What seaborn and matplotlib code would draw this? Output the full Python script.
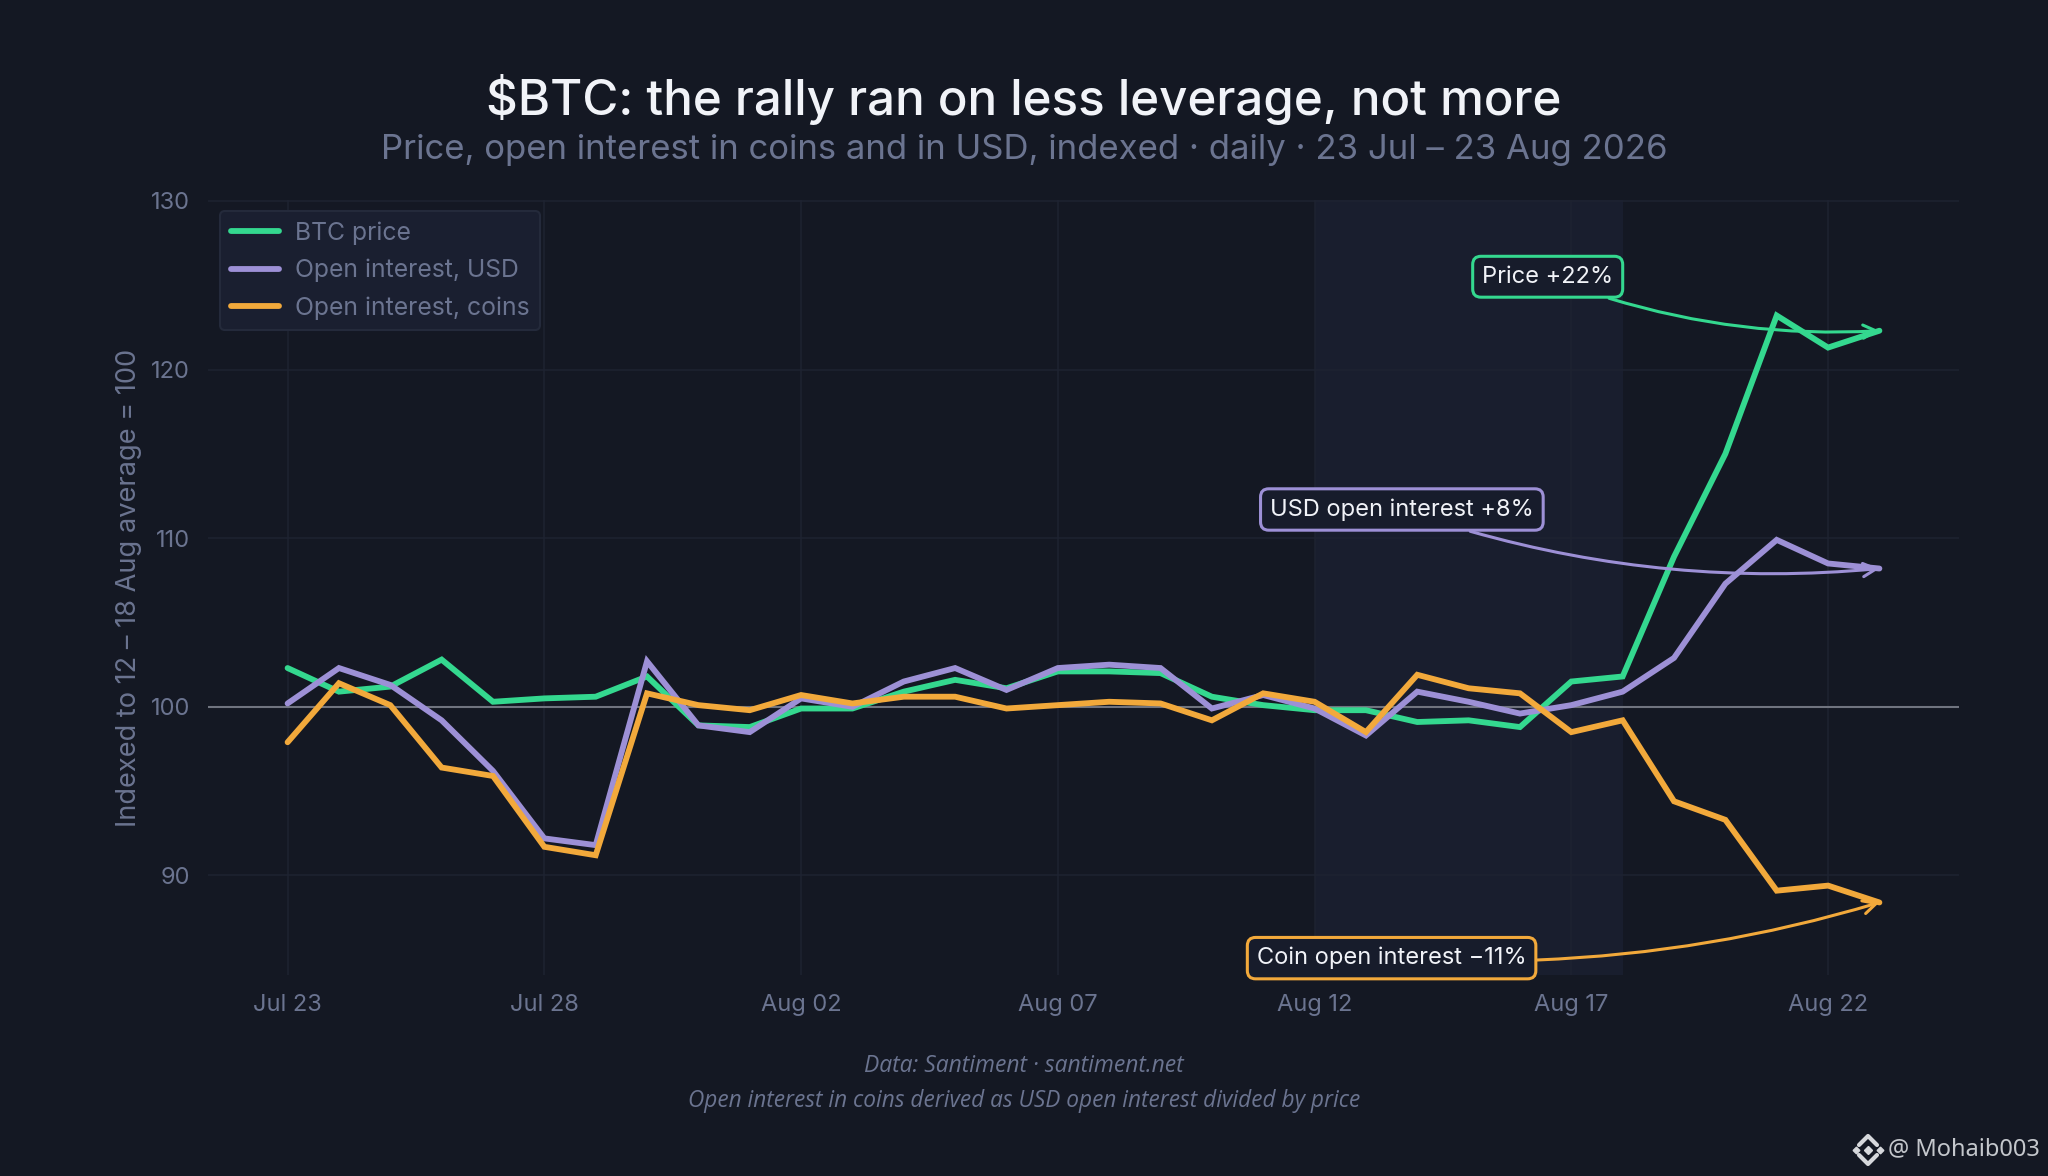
import matplotlib
matplotlib.use('Agg')
import matplotlib.pyplot as plt
import matplotlib.dates as mdates
from matplotlib.lines import Line2D
import pandas as pd
import seaborn as sns

# Daily values, 23 Jul - 23 Aug 2026
startDate = '2026-07-23'
endDate = '2026-08-23'
btcPrice = [102.3, 100.9, 101.2, 102.8, 100.3, 100.5, 100.6, 101.8, 98.9, 98.8,
            99.9, 99.9, 100.9, 101.6, 101.1, 102.1, 102.1, 102.0, 100.6, 100.1,
            99.8, 99.8, 99.1, 99.2, 98.8, 101.5, 101.8, 108.9, 115.0, 123.2, 121.3, 122.3]
oiUsd = [100.2, 102.3, 101.3, 99.2, 96.2, 92.2, 91.8, 102.7, 98.9, 98.5,
         100.5, 100.0, 101.5, 102.3, 101.0, 102.3, 102.5, 102.3, 99.9, 100.7,
         99.9, 98.3, 100.9, 100.3, 99.6, 100.1, 100.9, 102.9, 107.3, 109.9, 108.5, 108.2]
oiCoins = [97.9, 101.4, 100.1, 96.4, 95.9, 91.7, 91.2, 100.8, 100.1, 99.8,
           100.7, 100.2, 100.6, 100.6, 99.9, 100.1, 100.3, 100.2, 99.2, 100.8,
           100.3, 98.5, 101.9, 101.1, 100.8, 98.5, 99.2, 94.4, 93.3, 89.1, 89.4, 88.4]
seriesNames = ['BTC price', 'Open interest, USD', 'Open interest, coins']
yTicks = [90, 100, 110, 120, 130]

bgColor = '#141823'
panelColor = '#191e2e'
gridColor = '#1e2331'
mutedColor = '#6b7490'
seriesColors = ['#34d88f', '#9d90d6', '#f2a93b']

sns.set_theme(style='dark')
plt.rcParams['font.family'] = ['Inter', 'DejaVu Sans']

dates = pd.date_range(startDate, endDate)
df = pd.DataFrame({'date': dates, seriesNames[0]: btcPrice, seriesNames[1]: oiUsd, seriesNames[2]: oiCoins})
longDf = df.melt(id_vars='date', var_name='series', value_name='index')

fig = plt.figure(figsize=(20.48, 11.76), dpi=100, facecolor=bgColor)
ax = fig.add_axes([208 / 2048, 1 - 975 / 1176, (1959 - 208) / 2048, (975 - 200) / 1176], facecolor=bgColor)

# Shaded baseline window
ax.axvspan(pd.Timestamp('2026-08-12'), pd.Timestamp('2026-08-18'), color=panelColor, lw=0, zorder=0)
ax.grid(True, color=gridColor, lw=1.1, zorder=1)
ax.axhline(100, color='#70747f', lw=1.5, zorder=2)

sns.lineplot(data=longDf, x='date', y='index', hue='series', hue_order=seriesNames,
             palette=seriesColors, linewidth=4.2, ax=ax, zorder=3, solid_joinstyle='miter')

ax.set_xlim(dates[0] - pd.Timedelta(days=1.55), dates[-1] + pd.Timedelta(days=1.55))
ax.set_ylim(84.1, 130.05)
ax.set_yticks(yTicks)
ax.set_xticks(pd.date_range(startDate, endDate, freq='5D'))
ax.xaxis.set_major_formatter(mdates.DateFormatter('%b %d'))
ax.tick_params(axis='both', colors=mutedColor, labelsize=17, length=0)
ax.tick_params(axis='x', pad=14)
ax.tick_params(axis='y', pad=13)
ax.set_xlabel('')
ax.set_ylabel('Indexed to 12 – 18 Aug average = 100', color=mutedColor, fontsize=19.6, labelpad=6)
for spine in ax.spines.values():
    spine.set_visible(False)

legend = ax.legend(loc='upper left', bbox_to_anchor=(-0.0008, 1.0035), frameon=True, fontsize=17.8,
                   facecolor='#1a1f30', edgecolor='#242a3b', handlelength=1.95, handletextpad=0.65,
                   labelspacing=0.57, borderpad=0.42, borderaxespad=0.55, title=None)
legend.get_frame().set_linewidth(1.5)
legend.get_frame().set_alpha(1)
for text in legend.get_texts():
    text.set_color(mutedColor)

# Callouts pointing at the last value of each series
callouts = [
    ('Price +22%', 24.54, 125.5, btcPrice[-1], seriesColors[0], 0.11),
    ('USD open interest +8%', 21.7, 111.7, oiUsd[-1], seriesColors[1], 0.11),
    ('Coin open interest −11%', 21.5, 85.1, oiCoins[-1], seriesColors[2], 0.09),
]
for label, dayOffset, yPos, lastValue, color, bend in callouts:
    ax.annotate(label, xy=(dates[-1], lastValue), xytext=(dates[0] + pd.Timedelta(days=dayOffset), yPos),
                ha='center', va='center', color='#f1f3f8', fontsize=17, zorder=5, annotation_clip=False,
                bbox=dict(boxstyle='round,pad=0.4,rounding_size=0.35', fc='#171c2b', ec=color, lw=2.2),
                arrowprops=dict(arrowstyle='->,head_length=0.55,head_width=0.28', color=color, lw=2.2,
                                connectionstyle=f'arc3,rad={bend}', shrinkA=0, shrinkB=0))

fig.text(1024 / 2048, 1 - 99.5 / 1176, '$BTC: the rally ran on less leverage, not more', ha='center', va='center',
         color='#f1f3f8', fontsize=35.5, fontweight='medium')
fig.text(1024 / 2048, 1 - 149.5 / 1176, 'Price, open interest in coins and in USD, indexed · daily · 23 Jul – 23 Aug 2026',
         ha='center', va='center', color=mutedColor, fontsize=25)
fig.text(1024 / 2048, 1 - 1066 / 1176, 'Data: Santiment · santiment.net', ha='center', va='center',
         color=mutedColor, fontsize=16.5, style='italic', family=['Open Sans', 'DejaVu Sans'])
fig.text(1024 / 2048, 1 - 1101 / 1176, 'Open interest in coins derived as USD open interest divided by price',
         ha='center', va='center', color=mutedColor, fontsize=16.3, style='italic', family=['Open Sans', 'DejaVu Sans'])

# Watermark: small exchange logo and handle
logoX, logoY, logoR = 1868 / 2048, 1 - 1150 / 1176, 14
logoColor = '#d6d8dc'
sx, sy = 1 / 2048, 1 / 1176
for dx, dy in [(-12, 0), (12, 0), (0, 0)]:
    fig.add_artist(Line2D([logoX + dx * sx], [logoY + dy * sy], marker='D', ms=3.4 if dx else 4.2,
                          color=logoColor, lw=0, transform=fig.transFigure))
for flip in (1, -1):
    fig.add_artist(Line2D([logoX - 9 * sx, logoX, logoX + 9 * sx],
                          [logoY + 5 * flip * sy, logoY + logoR * flip * sy, logoY + 5 * flip * sy],
                          color=logoColor, lw=3, transform=fig.transFigure))
fig.text(1888 / 2048, 1 - 1149 / 1176, '@ Mohaib003', ha='left', va='center', color='#c4c7cc', fontsize=17,
         family=['Noto Sans', 'DejaVu Sans'])

fig.savefig('out.png', dpi=100, facecolor=bgColor)
